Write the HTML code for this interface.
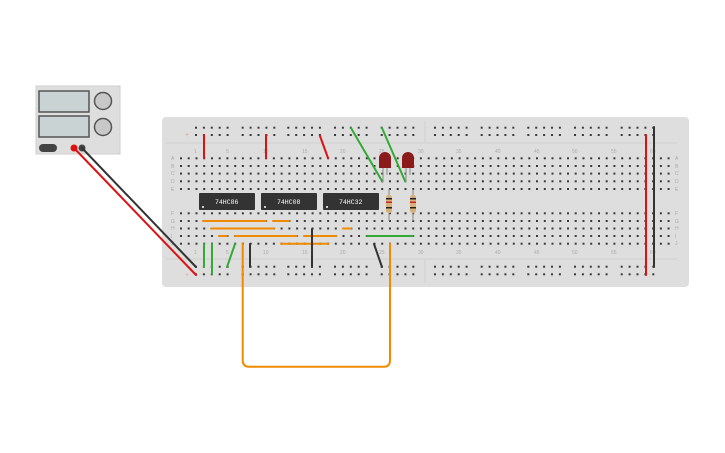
<!DOCTYPE html>
<html><head><style>html,body{margin:0;padding:0;background:#fff;width:725px;height:453px;overflow:hidden}</style></head>
<body>
<svg width="725" height="453" viewBox="0 0 725 453" xmlns="http://www.w3.org/2000/svg" font-family="Liberation Sans, sans-serif">
<rect x="36" y="86" width="84" height="68" fill="#dedede" stroke="#cfcfcf"/>
<rect x="39" y="91" width="50" height="21" fill="#c9d3d3" stroke="#555" stroke-width="1.5"/>
<rect x="39" y="116" width="50" height="21" fill="#c9d3d3" stroke="#555" stroke-width="1.5"/>
<circle cx="103" cy="101" r="8.5" fill="#c8c8c8" stroke="#555" stroke-width="1.5"/>
<circle cx="103" cy="127" r="8.5" fill="#c8c8c8" stroke="#555" stroke-width="1.5"/>
<rect x="39" y="144" width="18" height="8" rx="4" fill="#444"/>
<circle cx="74" cy="148" r="3.5" fill="#d11"/>
<circle cx="82" cy="148" r="3.5" fill="#444"/>
<rect x="162" y="117" width="527" height="170" rx="4" fill="#dedede"/>
<line x1="166" y1="143" x2="677" y2="143" stroke="#d0d0d0"/>
<line x1="166" y1="259" x2="677" y2="259" stroke="#d0d0d0"/>
<line x1="425" y1="121" x2="425" y2="143" stroke="#d0d0d0"/>
<line x1="425" y1="259" x2="425" y2="283" stroke="#d0d0d0"/>
<g id="holes" fill="#3a3a3a"></g>
<g font-size="5" fill="#aaa">
<text x="194" y="153">1</text><text x="226" y="153">5</text><text x="263" y="153">10</text><text x="302" y="153">15</text><text x="340" y="153">20</text><text x="379" y="153">25</text><text x="418" y="153">30</text><text x="456" y="153">35</text><text x="495" y="153">40</text><text x="534" y="153">45</text><text x="572" y="153">50</text><text x="611" y="153">55</text><text x="650" y="153">60</text>
<text x="194" y="254">1</text><text x="226" y="254">5</text><text x="263" y="254">10</text><text x="302" y="254">15</text><text x="340" y="254">20</text><text x="379" y="254">25</text><text x="418" y="254">30</text><text x="456" y="254">35</text><text x="495" y="254">40</text><text x="534" y="254">45</text><text x="572" y="254">50</text><text x="611" y="254">55</text><text x="650" y="254">60</text>
<text x="171" y="160">A</text><text x="171" y="168">B</text><text x="171" y="175">C</text><text x="171" y="183">D</text><text x="171" y="191">E</text>
<text x="171" y="215">F</text><text x="171" y="223">G</text><text x="171" y="230">H</text><text x="171" y="238">I</text><text x="171" y="245">J</text>
<text x="675" y="160">A</text><text x="675" y="168">B</text><text x="675" y="175">C</text><text x="675" y="183">D</text><text x="675" y="191">E</text>
<text x="675" y="215">F</text><text x="675" y="223">G</text><text x="675" y="230">H</text><text x="675" y="238">I</text><text x="675" y="245">J</text>
</g>
<text x="185" y="137" font-size="7" fill="#f0a0a0">+</text>
<text x="185" y="277" font-size="7" fill="#f0a0a0">+</text>
<g>
<rect x="199" y="193" width="56" height="17" rx="1" fill="#333"/>
<rect x="261" y="193" width="56" height="17" rx="1" fill="#333"/>
<rect x="323" y="193" width="56" height="17" rx="1" fill="#333"/>
<g fill="#fff" font-size="6.5" font-family="Liberation Mono, monospace">
<text x="215" y="204">74HC86</text><text x="277" y="204">74HC08</text><text x="339" y="204">74HC32</text></g>
<circle cx="203" cy="207" r="1" fill="#fff"/><circle cx="265" cy="207" r="1" fill="#fff"/><circle cx="327" cy="207" r="1" fill="#fff"/>
</g>
<g stroke-width="2" stroke-linecap="round" fill="none">
<line x1="204" y1="135" x2="204" y2="158" stroke="#d11"/>
<line x1="266" y1="135" x2="266" y2="158" stroke="#d11"/>
<line x1="320" y1="136" x2="328" y2="158" stroke="#d11"/>
<line x1="351" y1="128" x2="382" y2="181" stroke="#3a3"/>
<line x1="382" y1="128" x2="405" y2="181" stroke="#3a3"/>
<g stroke="#f08a00">
<line x1="203" y1="221" x2="266" y2="221"/><line x1="273" y1="221" x2="289" y2="221"/>
<line x1="211" y1="228.5" x2="274" y2="228.5"/><line x1="343" y1="228.5" x2="351" y2="228.5"/>
<line x1="219" y1="236" x2="227" y2="236"/><line x1="235" y1="236" x2="297" y2="236"/><line x1="304" y1="236" x2="336" y2="236"/>
<line x1="281" y1="243.7" x2="328" y2="243.7"/>
<path d="M242.7 243.7 V360 Q242.7 366.7 249 366.7 H384 Q390 366.7 390 360 V243.7"/>
</g>
<line x1="367" y1="236" x2="413" y2="236" stroke="#3a3"/>
<line x1="312" y1="229" x2="312" y2="267" stroke="#333"/>
<line x1="374" y1="244" x2="382" y2="267" stroke="#333"/>
<line x1="250" y1="244" x2="250" y2="267" stroke="#333"/>
<line x1="204" y1="244" x2="204" y2="267" stroke="#3a3"/>
<line x1="212" y1="244" x2="212" y2="274" stroke="#3a3"/>
<line x1="235" y1="244" x2="227" y2="267" stroke="#3a3"/>
<line x1="646" y1="135" x2="646" y2="275" stroke="#d11"/>
<line x1="654" y1="127" x2="654" y2="267" stroke="#333"/>
<line x1="82" y1="148" x2="196" y2="267" stroke="#333"/>
<line x1="74" y1="148" x2="196" y2="275" stroke="#d11"/>
</g>
<g>
<line x1="383" y1="165" x2="383" y2="182" stroke="#888"/><line x1="387" y1="165" x2="387" y2="175" stroke="#888"/>
<line x1="406" y1="165" x2="406" y2="182" stroke="#888"/><line x1="410" y1="165" x2="410" y2="175" stroke="#888"/>
<path d="M379 168 V158 A6 6 0 0 1 391 158 V168 Z" fill="#8b1a1a"/>
<path d="M402 168 V158 A6 6 0 0 1 414 158 V168 Z" fill="#8b1a1a"/>
</g>
<g>
<line x1="389" y1="189" x2="389" y2="221" stroke="#888"/><line x1="413" y1="189" x2="413" y2="221" stroke="#888"/>
<rect x="386" y="195" width="6" height="18" rx="2.5" fill="#d8b07a"/>
<rect x="410" y="195" width="6" height="18" rx="2.5" fill="#d8b07a"/>
<g fill="#222"><rect x="386" y="198" width="6" height="1.5"/><rect x="386" y="207" width="6" height="1.5"/><rect x="410" y="198" width="6" height="1.5"/><rect x="410" y="207" width="6" height="1.5"/></g>
<g fill="#c22"><rect x="386" y="201.5" width="6" height="1.5"/><rect x="410" y="201.5" width="6" height="1.5"/></g>
</g>
</svg>
<script>
(function(){
var g=document.getElementById('holes'),ns='http://www.w3.org/2000/svg';
function h(x,y){var r=document.createElementNS(ns,'rect');r.setAttribute('x',(x-1).toFixed(1));r.setAttribute('y',(y-1).toFixed(1));r.setAttribute('width','2');r.setAttribute('height','2');g.appendChild(r);}
var rows=[158.3,166,173.6,181.3,189,213.3,221,228.5,236,243.7];
for(var i=0;i<64;i++){var x=181+i*7.74;rows.forEach(function(y){h(x,y);});}
var grp=[196,242.7,288.3,335,381.7,435,481.7,528.3,575,621.7];
grp.forEach(function(x0){for(var k=0;k<5;k++){var x=x0+k*7.9;[127.7,135,266.7,274.3].forEach(function(y){h(x,y);});}});
})();
</script>
</body></html>
